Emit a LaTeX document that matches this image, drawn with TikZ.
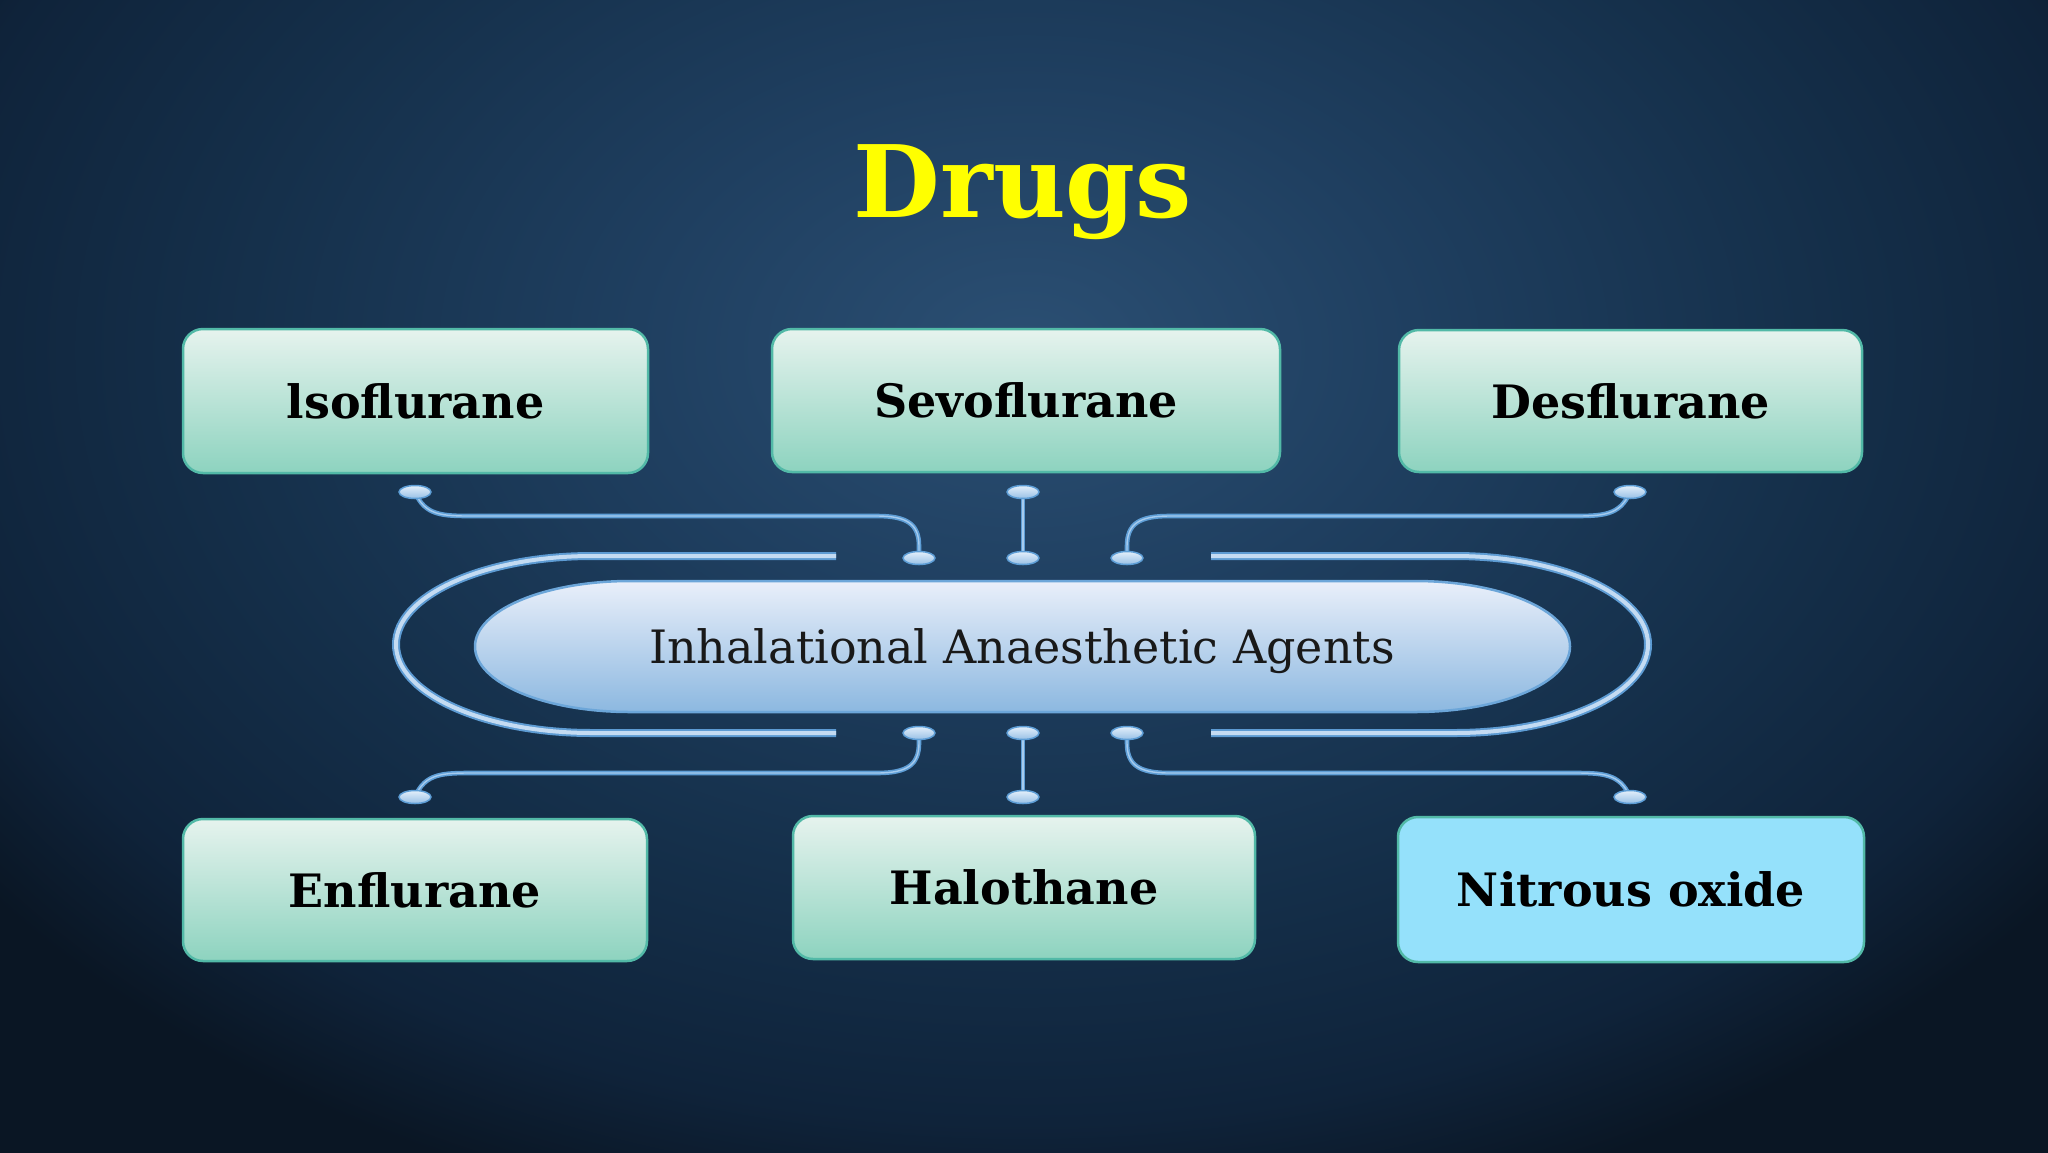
\documentclass[tikz,border=0pt]{standalone}
\usepackage{fontspec}
\setmainfont{DejaVu Serif}
\usetikzlibrary{shapes.geometric,calc}
\definecolor{bga}{HTML}{2B4F73}
\definecolor{bgb}{HTML}{1F3F60}
\definecolor{bgc}{HTML}{15304B}
\definecolor{bgd}{HTML}{0F233A}
\definecolor{bge}{HTML}{0A1624}
\definecolor{boxtop}{HTML}{E6F3EE}
\definecolor{boxbot}{HTML}{8DD3BF}
\definecolor{boxedge}{HTML}{52B9A7}
\definecolor{nitro}{HTML}{95E1FB}
\definecolor{captop}{HTML}{E9EFFA}
\definecolor{capbot}{HTML}{8CB8E0}
\definecolor{capedge}{HTML}{6CA6D9}
\definecolor{tubeedge}{HTML}{5D9BD3}
\definecolor{tubelight}{HTML}{C4DBF2}
\definecolor{connedge}{HTML}{5E9ED6}
\definecolor{connlight}{HTML}{A6CBEE}
\definecolor{padtop}{HTML}{E4EFFA}
\definecolor{padbot}{HTML}{97C0E6}
\definecolor{titleyellow}{HTML}{FFFF00}
\pgfdeclareradialshading{bgshade}{\pgfpoint{0bp}{0bp}}{color(0bp)=(bga); color(7.5bp)=(bgb); color(15bp)=(bgc); color(21.5bp)=(bgd); color(25bp)=(bge); color(50bp)=(bge)}
\tikzset{
  drugbox/.style={rounded corners=20pt, draw=boxedge, line width=2.5pt, top color=boxtop, bottom color=boxbot, font=\bfseries\fontsize{46}{52}\selectfont, text=black, inner sep=0pt},
  nitrobox/.style={rounded corners=20pt, draw=boxedge, line width=2.5pt, fill=nitro, font=\bfseries\fontsize{46}{52}\selectfont, text=black, inner sep=0pt},
  tube/.style={draw=tubeedge, line width=2pt, double=tubelight, double distance=4pt},
  conn/.style={draw=connedge, line width=1.6pt, double=connlight, double distance=1.4pt},
  pad/.style={ellipse, draw=connedge, line width=1.5pt, top color=padtop, bottom color=padbot, minimum width=32pt, minimum height=13pt, inner sep=0pt},
  hubtext/.style={font=\fontsize{46}{52}\selectfont, text=black!90, inner sep=0pt},
  titletext/.style={font=\bfseries\fontsize{100}{110}\selectfont, inner sep=0pt}
}
\begin{document}
\begin{tikzpicture}[x=1pt,y=-1pt]
\useasboundingbox (0,0) rectangle (2048,1152);
\begin{scope}
  \clip (0,0) rectangle (2048,1152);
  \shade[shading=bgshade] (-276,-550) rectangle (2324,1250);
\end{scope}

% title
\node[titletext, text=titleyellow, anchor=base] (title) at (1023,217) {Drugs};

% boxes
\node[drugbox, minimum width=465pt, minimum height=144pt] (iso) at (415.5,401) {lsoflurane};
\node[drugbox, minimum width=508pt, minimum height=143pt] (sevo) at (1026,400.5) {Sevoflurane};
\node[drugbox, minimum width=463pt, minimum height=142pt] (des) at (1630.5,401) {Desflurane};
\node[drugbox, minimum width=464pt, minimum height=142pt] (enf) at (415,890) {Enflurane};
\node[drugbox, minimum width=462pt, minimum height=143pt] (halo) at (1024,887.5) {Halothane};
\node[nitrobox, minimum width=466pt, minimum height=145pt] (nitr) at (1631,889.5) {Nitrous oxide};

% outer tubes
\draw[tube] (836,556) -- (592,556) arc[start angle=-90, end angle=-270, x radius=196, y radius=88.5] -- (836,733);
\draw[tube] (1211,556) -- (1455,556) arc[start angle=-90, end angle=90, x radius=193, y radius=88.5] -- (1211,733);

% central capsule
\draw[draw=capedge, line width=2.5pt, top color=captop, bottom color=capbot]
  (630,581) -- (1415,581) arc[start angle=-90, end angle=90, x radius=155, y radius=65.5]
  -- (630,712) arc[start angle=90, end angle=270, x radius=155, y radius=65.5] -- cycle;
\node[hubtext, anchor=base] (hub) at (1022,663) {Inhalational Anaesthetic Agents};

% pad coordinates
\coordinate (uA) at (415,492);
\coordinate (uB) at (919,558);
\coordinate (uC) at (1023,492);
\coordinate (uD) at (1023,558);
\coordinate (uE) at (1127,558);
\coordinate (uF) at (1630,492);
\coordinate (dA) at (919,733);
\coordinate (dB) at (415,797);
\coordinate (dC) at (1023,733);
\coordinate (dD) at (1023,797);
\coordinate (dE) at (1127,733);
\coordinate (dF) at (1630,797);

% connectors
\draw[conn] (uA) .. controls +(10,24) and +(-30,0) .. ($(uA)+(58,24)$) -- ($(uB)+(-42,-42)$)
  .. controls +(30,0) and +(0,-22) .. ($(uB)+(0,-12)$) -- (uB);
\draw[conn] (uC) -- (uD);
\draw[conn] (uE) -- ($(uE)+(0,-12)$) .. controls +(0,-22) and +(-30,0) .. ($(uE)+(42,-42)$)
  -- ($(uF)+(-58,24)$) .. controls +(30,0) and +(-10,24) .. (uF);
\draw[conn] (dA) -- ($(dA)+(0,10)$) .. controls +(0,22) and +(30,0) .. ($(dA)+(-42,40)$)
  -- ($(dB)+(58,-24)$) .. controls +(-30,0) and +(10,-24) .. (dB);
\draw[conn] (dC) -- (dD);
\draw[conn] (dE) -- ($(dE)+(0,10)$) .. controls +(0,22) and +(-30,0) .. ($(dE)+(42,40)$)
  -- ($(dF)+(-58,-24)$) .. controls +(30,0) and +(-10,-24) .. (dF);

% pads
\foreach \p in {uA,uB,uC,uD,uE,uF,dA,dB,dC,dD,dE,dF}{
  \node[pad] (\p-pad) at (\p) {};
}
\end{tikzpicture}
\end{document}
